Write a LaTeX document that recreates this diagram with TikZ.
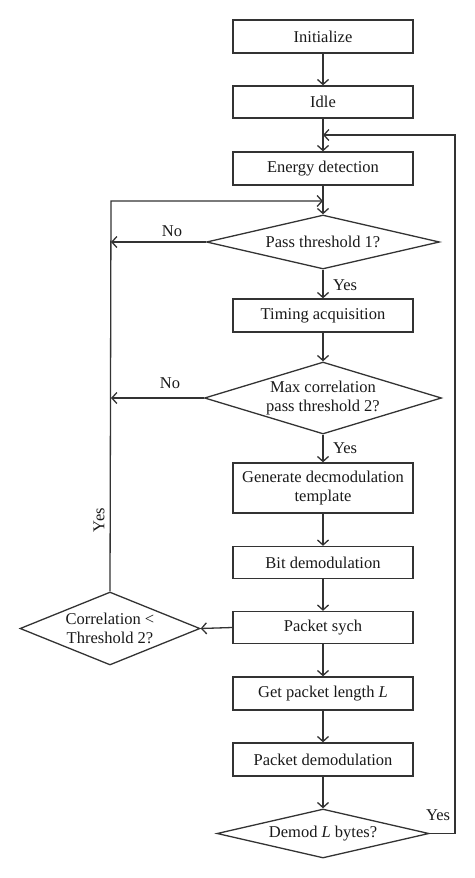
\documentclass[tikz,border=0pt]{standalone}
\usepackage{fontspec}
\setmainfont{Liberation Serif}
\usetikzlibrary{shapes.geometric,arrows.meta}
\begin{document}
\begin{tikzpicture}[x=1pt,y=-1pt,
  every node/.style={font=\fontsize{16.5}{19}\selectfont, text=black!90},
  proc/.style={draw=black!80, line width=1.3pt, minimum width=180pt, inner sep=0pt, align=center},
  dec/.style={draw=black!80, line width=1.3pt, shape=diamond, inner sep=0pt},
  lbl/.style={inner sep=0pt, align=center},
  conn/.style={draw=black!80, line width=1.3pt, -{Straight Barb[length=5pt,width=11pt,line width=1.3pt]}},
  line/.style={draw=black!80, line width=1.3pt}]
\useasboundingbox (0,0) rectangle (474,878);
% process boxes
\node[proc, minimum height=33pt] (init) at (323,36.5) {Initialize};
\node[proc, minimum height=32pt] (idle) at (323,102) {Idle};
\node[proc, minimum height=33pt] (energy) at (323,168.5) {Energy detection};
\node[proc, minimum height=33pt] (timing) at (323,315.5) {Timing acquisition};
\node[proc, minimum height=50pt] (gen) at (323,488) {Generate decmodulation\\template};
\node[proc, minimum height=32pt] (bit) at (323,562.5) {Bit demodulation};
\node[proc, minimum height=32pt] (sych) at (323,627.5) {Packet sych};
\node[proc, minimum height=33pt] (len) at (323,693.5) {Get packet length \textit{L}};
\node[proc, minimum height=33pt] (pdem) at (323,759.5) {Packet demodulation};
% decisions
\node[dec, minimum width=233pt, minimum height=54pt] (d1) at (323,242) {};
\node[lbl] (d1t) at (d1.center) {Pass threshold 1?};
\node[dec, minimum width=237pt, minimum height=72pt] (d2) at (323,398) {};
\node[lbl] (d2t) at (d2.center) {Max correlation\\pass threshold 2?};
\node[dec, minimum width=180pt, minimum height=73pt] (d3) at (110,628.5) {};
\node[lbl] (d3t) at (d3.center) {Correlation <\\Threshold 2?};
\node[dec, minimum width=212pt, minimum height=49pt] (d4) at (323,833.5) {};
\node[lbl] (d4t) at (d4.center) {Demod \textit{L} bytes?};
% helper coordinates
\coordinate (m1) at (323,135);
\coordinate (m2) at (323,201);
\coordinate (lx1) at (111,242);
\coordinate (lx2) at (111,398);
\coordinate (ltop) at (111,201);
\coordinate (rb) at (455,833.5);
\coordinate (rt) at (455,135);
% main flow
\draw[conn] (init) -- (idle);
\draw[conn] (idle) -- (energy);
\draw[conn] (energy) -- (d1);
\draw[conn] (d1) -- (timing);
\draw[conn] (timing) -- (d2);
\draw[conn] (d2) -- (gen);
\draw[conn] (gen) -- (bit);
\draw[conn] (bit) -- (sych);
\draw[conn] (sych) -- (len);
\draw[conn] (len) -- (pdem);
\draw[conn] (pdem) -- (d4);
% no branches
\draw[conn] (d1.west) -- (lx1);
\draw[conn] (d2.west) -- (lx2);
\draw[conn] (sych.west) -- (d3.east);
% yes loop back from correlation
\draw[conn] (d3.north) -- (ltop) -- (m2);
% yes loop back from demod
\draw[conn] (d4.east) -- (rb) -- (rt) -- (m1);
% labels
\node[lbl] (no1) at (172,231) {No};
\node[lbl] (no2) at (170,383) {No};
\node[lbl] (yes1) at (345,285) {Yes};
\node[lbl] (yes2) at (345,448) {Yes};
\node[lbl, rotate=90] (yes3) at (99,520) {Yes};
\node[lbl] (yes4) at (438,815) {Yes};
\end{tikzpicture}
\end{document}
